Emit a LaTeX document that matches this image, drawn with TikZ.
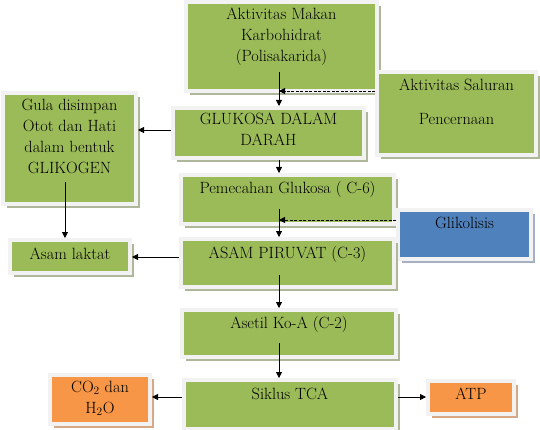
\documentclass[tikz,border=0pt]{standalone}
\usepackage{tikz}
\usetikzlibrary{shadows, arrows.meta}

\definecolor{leaf}{HTML}{9BBB59}
\definecolor{sky}{HTML}{4F81BD}
\definecolor{peach}{HTML}{F79646}
\definecolor{rim}{HTML}{F2F2F2}
\definecolor{leafshade}{HTML}{AEB799}
\definecolor{skyshade}{HTML}{A5B0C4}
\definecolor{peachshade}{HTML}{D6A886}

\tikzset{
	box/.style={rectangle, draw=rim, line width=4pt, inner sep=0pt},
	greenbox/.style={box, fill=leaf, drop shadow={fill=leafshade, opacity=1, shadow xshift=4pt, shadow yshift=-4pt}},
	bluebox/.style={box, fill=sky, drop shadow={fill=skyshade, opacity=1, shadow xshift=4pt, shadow yshift=-4pt}},
	orangebox/.style={box, fill=peach, drop shadow={fill=peachshade, opacity=1, shadow xshift=4pt, shadow yshift=-4pt}},
	txt/.style={anchor=base, align=center, inner sep=0pt, font=\fontsize{16.3}{21}\selectfont},
	flow/.style={-{Triangle[length=6pt,width=6pt]}, line width=0.8pt},
	feed/.style={flow, dash pattern=on 3pt off 1.5pt}
}

\begin{document}
\begin{tikzpicture}[x=1pt, y=-1pt]
	\useasboundingbox (0,0) rectangle (540,430);
	\coordinate (spine) at (279,0);

	\node[greenbox, minimum width=191pt, minimum height=89pt] (makan) at (281.5,46.5) {};
	\node[txt] (makan-t) at ([yshift=-62pt]makan.north) {Aktivitas Makan\\Karbohidrat\\(Polisakarida)};
	\node[greenbox, minimum width=159pt, minimum height=83pt] (saluran) at (456.5,113.5) {};
	\node[txt] (saluran-t) at ([yshift=-55pt]saluran.north) {Aktivitas Saluran\\[13pt]Pencernaan};
	\node[greenbox, minimum width=191pt, minimum height=50pt] (glukosa) at (268.5,133) {};
	\node[txt] (glukosa-t) at ([yshift=-40pt]glukosa.north) {GLUKOSA DALAM\\DARAH};
	\node[greenbox, minimum width=133pt, minimum height=111pt] (gula) at (69.5,148.5) {};
	\node[txt] (gula-t) at ([yshift=-83pt]gula.north) {Gula disimpan\\Otot dan Hati\\dalam bentuk\\GLIKOGEN};
	\node[greenbox, minimum width=213pt, minimum height=49pt] (pemecahan) at (287.5,199.5) {};
	\node[txt] (pemecahan-t) at ([yshift=-21pt]pemecahan.north) {Pemecahan Glukosa ( C-6)};
	\node[bluebox, minimum width=133pt, minimum height=49pt] (glikolisis) at (464.5,234.5) {};
	\node[txt] (glikolisis-t) at ([yshift=-21pt]glikolisis.north) {Glikolisis};
	\node[greenbox, minimum width=120pt, minimum height=33pt] (laktat) at (70,256.5) {};
	\node[txt] (laktat-t) at ([yshift=-21pt]laktat.north) {Asam laktat};
	\node[greenbox, minimum width=213pt, minimum height=48pt] (piruvat) at (287.5,263) {};
	\node[txt] (piruvat-t) at ([yshift=-21pt]piruvat.north) {ASAM PIRUVAT (C-3)};
	\node[greenbox, minimum width=214pt, minimum height=47pt] (asetil) at (289,333.5) {};
	\node[txt] (asetil-t) at ([yshift=-20pt]asetil.north) {Asetil Ko-A (C-2)};
	\node[greenbox, minimum width=212pt, minimum height=49pt] (siklus) at (290,404.5) {};
	\node[txt] (siklus-t) at ([yshift=-21pt]siklus.north) {Siklus TCA};
	\node[orangebox, minimum width=100pt, minimum height=49pt] (co2) at (100,399.5) {};
	\node[txt] (co2-t) at ([yshift=-40pt]co2.north) {CO\textsubscript{2} dan\\H\textsubscript{2}O};
	\node[orangebox, minimum width=86pt, minimum height=33pt] (atp) at (471,397.5) {};
	\node[txt] (atp-t) at ([yshift=-20pt]atp.north) {ATP};

	\draw[flow] ([yshift=21pt]makan.south -| spine) -- (glukosa.north -| spine);
	\draw[feed] ([yshift=-21pt]saluran.north west) -- ([yshift=-21pt]saluran.north west -| spine);
	\draw[flow] (glukosa.south -| spine) -- (pemecahan.north -| spine);
	\draw[flow] ([yshift=3pt]glukosa.west) -- ([yshift=3pt]glukosa.west -| gula.east);
	\draw[flow] ([xshift=-4.5pt,yshift=24pt]gula.south) -- ([xshift=-4.5pt]gula.south |- laktat.north);
	\draw[flow] ([yshift=17pt]pemecahan.south -| spine) -- (piruvat.north -| spine);
	\draw[feed] ([yshift=-12pt]glikolisis.north west) -- ([yshift=-12pt]glikolisis.north west -| spine);
	\draw[flow] ([yshift=6pt]piruvat.west) -- ([yshift=6pt]piruvat.west -| laktat.east);
	\draw[flow] ([yshift=14pt]piruvat.south -| spine) -- (asetil.north -| spine);
	\draw[flow] ([yshift=16pt]asetil.south -| spine) -- (siklus.north -| spine);
	\draw[flow] ([yshift=7.5pt]siklus.east) -- ([yshift=7.5pt]siklus.east -| atp.west);
	\draw[flow] ([yshift=7.5pt]siklus.west) -- ([yshift=7.5pt]siklus.west -| co2.east);
\end{tikzpicture}
\end{document}
